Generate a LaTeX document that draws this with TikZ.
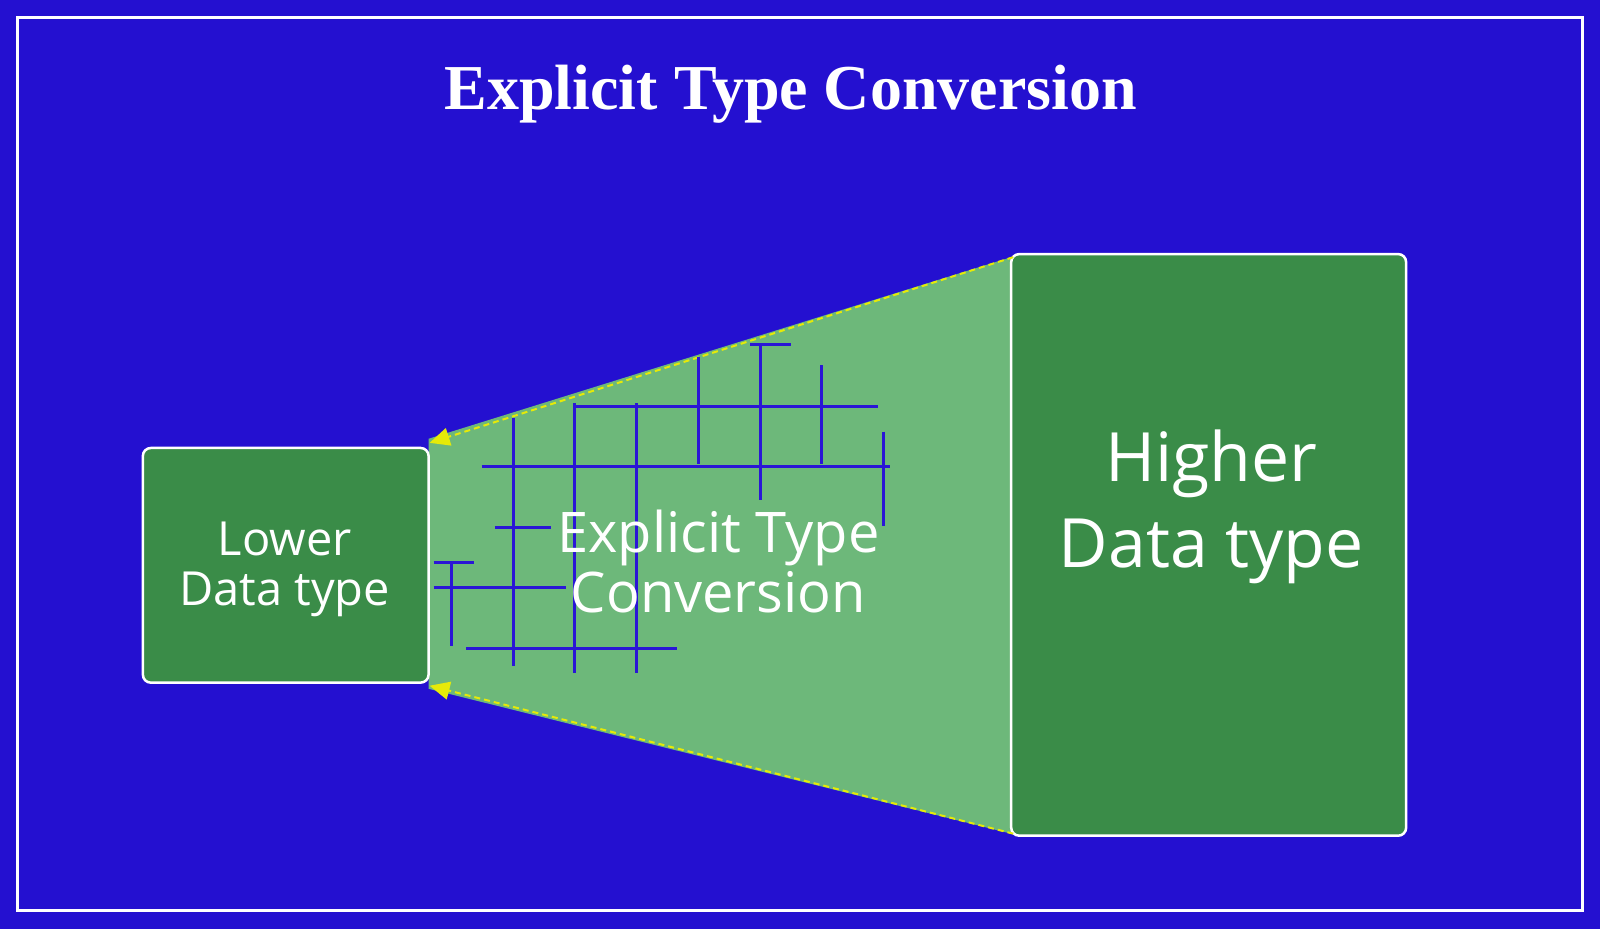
\documentclass[tikz,border=0pt]{standalone}
\usepackage{fontspec}
\setmainfont{Open Sans}
\newfontfamily\titlefont{Liberation Serif}
\usetikzlibrary{arrows.meta}
\definecolor{bgblue}{HTML}{2410D0}
\definecolor{boxgreen}{HTML}{3A8C48}
\definecolor{lightgreen}{HTML}{6DB87A}
\definecolor{gridblue}{HTML}{2A16D6}
\tikzset{
  databox/.style={draw=white, line width=2.5pt, fill=boxgreen, rounded corners=8pt},
  funnel/.style={draw=yellow!90!green, dashed, dash pattern=on 6pt off 4pt, line width=2pt, -{Triangle[length=20pt,width=18pt]}},
  gline/.style={gridblue, line width=3pt},
  boxtext/.style={text=white, align=center}
}
\begin{document}
\begin{tikzpicture}[x=1.0204pt,y=-1.0204pt]
\fill[bgblue] (0,0) rectangle (1568,910.4);
\useasboundingbox (0,0) rectangle (1568,910.4);
\draw[white, line width=3pt] (17,17) rectangle (1551,892);
\node[text=white, font=\titlefont\bfseries\fontsize{64}{70}\selectfont] (title) at (775,92) {Explicit Type Conversion};
% funnel
\fill[lightgreen] (420,430) -- (991,252) -- (991,817) -- (420,675) -- cycle;
\draw[databox] (140,439) rectangle (420,669);
\draw[databox] (991,249) rectangle (1378,819);
\node (low) at (280,554) {};
\node (high) at (1184,534) {};
\coordinate (hTop) at (993,252);
\coordinate (hBot) at (993,817);
\coordinate (lTop) at (421,434);
\coordinate (lBot) at (421,672);
\draw[funnel] (hTop) -- (lTop);
\draw[funnel] (hBot) -- (lBot);
% grid lines
\foreach \y/\a/\b in {398/563/860, 457/472/872, 517/485/540, 576/425/555, 636/457/663, 551/425/465, 338/735/775}
  \draw[gline] (\a,\y) -- (\b,\y);
\foreach \x/\a/\b in {503/410/653, 563/395/660, 624/395/660, 685/350/455, 745/338/490, 805/358/455, 866/423/515, 442/551/633}
  \draw[gline] (\x,\a) -- (\x,\b);
\node[boxtext, font=\fontsize{47}{50}\selectfont] (lowt) at (279,558) {Lower\\Data type};
\node[boxtext, font=\fontsize{68}{86}\selectfont] (hight) at (1187,497) {Higher\\Data type};
\node[boxtext, font=\fontsize{56}{60}\selectfont] (mid) at (704,550) {Explicit Type\\Conversion};
\end{tikzpicture}
\end{document}
